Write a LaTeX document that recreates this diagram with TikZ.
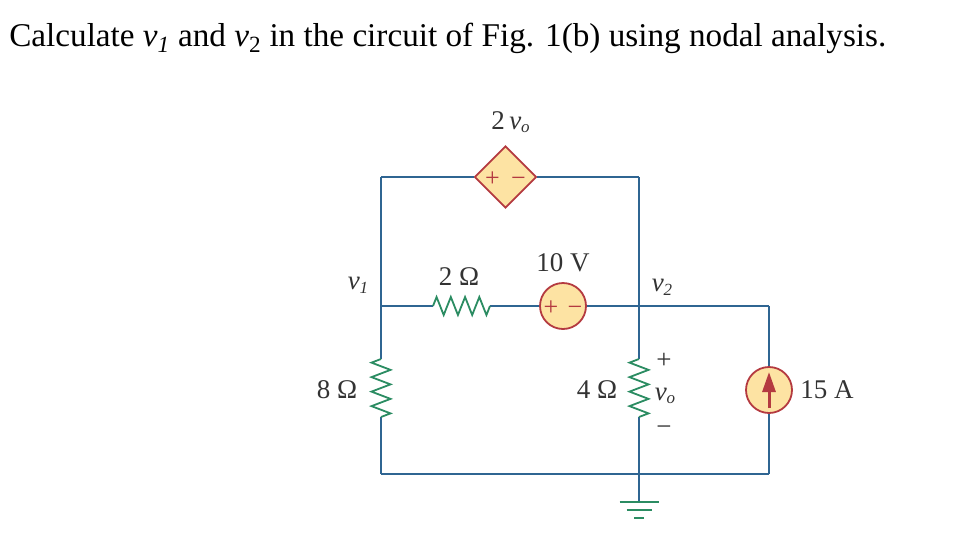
\documentclass[tikz,border=0pt]{standalone}
\usepackage{fontspec}
\setmainfont{Liberation Serif}
\usepackage{tikz}
\usetikzlibrary{arrows.meta,shapes.geometric,decorations.pathmorphing}
\definecolor{wireBlue}{HTML}{2F6592}
\definecolor{srcRed}{HTML}{B43A40}
\definecolor{srcFill}{HTML}{FDE3A3}
\definecolor{resGreen}{HTML}{2B8C62}
\definecolor{inkGray}{HTML}{333333}
\newcommand{\vSub}[1]{\textit{v}\raisebox{-.3ex}{\fontsize{17}{17}\selectfont\textit{#1}}}
\newcommand{\srcSigns}[1]{\makebox[0pt]{\raisebox{-9pt}[0pt][0pt]{+\hspace{#1}−}}}

\begin{document}
\begin{tikzpicture}[x=1pt,y=-1pt,semithick]
        \tikzset{
           junction/.style={
                        coordinate
                       },
           wire/.style={
                        draw=wireBlue,
                        line width=1.8pt
                       },
           resistor/.style={
                        draw=resGreen,
                        line width=1.8pt,
                        decorate,
                        decoration={zigzag,segment length=14.25pt,amplitude=9pt}
                       },
           resistorV/.style={
                        resistor,
                        decoration={zigzag,segment length=14.5pt,amplitude=9.5pt,mirror}
                       },
           indepSource/.style={
                        circle,
                        draw=srcRed,
                        fill=srcFill,
                        line width=1.8pt,
                        minimum size=46pt,
                        inner sep=0pt,
                        text=srcRed,
                        font=\fontsize{26}{26}\selectfont
                       },
           depSource/.style={
                        diamond,
                        aspect=1,
                        draw=srcRed,
                        fill=srcFill,
                        line width=1.8pt,
                        minimum size=62pt,
                        inner sep=0pt,
                        text=srcRed,
                        font=\fontsize{26}{26}\selectfont
                       },
           valueLabel/.style={
                        inner sep=0pt,
                        text=inkGray,
                        font=\fontsize{27}{27}\selectfont
                       },
           groundBar/.style={
                        draw=resGreen,
                        line width=1.8pt
                       },
                 };
    %--------------------
        \node[junction]    (v1Node)   at (381,306)                              {};
        \node[junction]    (topLeft)  [above of=v1Node,node distance=129pt]     {};
        \node[junction]    (r8Top)    [below of=v1Node,node distance=53pt]      {};
        \node[junction]    (r8Bot)    [below of=r8Top,node distance=58pt]       {};
        \node[junction]    (botLeft)  [below of=r8Bot,node distance=57pt]       {};

        \node[junction]    (v2Node)   at (639,306)                              {};
        \node[junction]    (topRight) [above of=v2Node,node distance=129pt]     {};
        \node[junction]    (r4Top)    [below of=v2Node,node distance=53pt]      {};
        \node[junction]    (r4Bot)    [below of=r4Top,node distance=58pt]       {};
        \node[junction]    (botMid)   [below of=r4Bot,node distance=57pt]       {};
        \node[junction]    (gnd)      [below of=botMid,node distance=28pt]      {};

        \node[junction]    (rightTop) [right of=v2Node,node distance=130pt]     {};
        \node[junction]    (botRight) [right of=botMid,node distance=130pt]     {};

        \node[junction]    (r2Left)   [right of=v1Node,node distance=52pt]      {};
        \node[junction]    (r2Right)  [right of=r2Left,node distance=57pt]      {};

        \node[depSource]   (srcDep)   at (505.5,177)                            {\srcSigns{11.5pt}};
        \node[indepSource] (src10)    at (563,306)                              {\srcSigns{9.5pt}};
        \node[indepSource] (src15)    at (769,390)                              {};
    %--------------------
        \node[valueLabel]  (labelDep)  [above of=srcDep,node distance=55pt,xshift=5pt] {2\,\vSub{o}};
        \node[valueLabel]  (label2)    at (459,277)                             {2 Ω};
        \node[valueLabel]  (label10)   [above of=src10,node distance=43pt]      {10 V};
        \node[valueLabel]  (labelV1)   at (358,285)                             {\vSub{1}};
        \node[valueLabel]  (labelV2)   at (662,287)                             {\vSub{2}};
        \node[valueLabel]  (label8)    at (337,390)                             {8 Ω};
        \node[valueLabel]  (label4)    at (597,390)                             {4 Ω};
        \node[valueLabel]  (labelPlus) at (664,361)                             {+};
        \node[valueLabel]  (labelVo)   at (665,396)                             {\vSub{o}};
        \node[valueLabel]  (labelMinus) at (664,431)                            {−};
        \node[valueLabel]  (label15)   [right of=src15,node distance=58pt]      {15 A};

        \node[anchor=west,inner sep=0pt,font=\fontsize{33.2}{33.2}\selectfont] (title) at (9,38)
              {Calculate \textit{v\textsubscript{1}} and \textit{v}\textsubscript{2} in the circuit of Fig. 1(b) using nodal analysis.};
    %--------------------
        \path (v1Node)   edge[wire] (topLeft)
              (topLeft)  edge[wire] (srcDep)
              (srcDep)   edge[wire] (topRight)
              (topRight) edge[wire] (v2Node)

              (v1Node)   edge[wire] (r8Top)
              (r8Bot)    edge[wire] (botLeft)
              (botLeft)  edge[wire] (botMid)
              (botMid)   edge[wire] (botRight)
              (botRight) edge[wire] (src15)
              (src15)    edge[wire] (rightTop)

              (v1Node)   edge[wire] (r2Left)
              (r2Right)  edge[wire] (src10)
              (src10)    edge[wire] (v2Node)
              (v2Node)   edge[wire] (rightTop)

              (v2Node)   edge[wire] (r4Top)
              (r4Bot)    edge[wire] (botMid)
              (botMid)   edge[wire] (gnd)

              (r2Left)   edge[resistor]  (r2Right)
              (r8Top)    edge[resistorV] (r8Bot)
              (r4Top)    edge[resistorV] (r4Bot);

        \draw[groundBar] ([xshift=-19.5pt]gnd) -- ([xshift=19.5pt]gnd);
        \draw[groundBar] ([xshift=-12.5pt,yshift=-8pt]gnd) -- ([xshift=12.5pt,yshift=-8pt]gnd);
        \draw[groundBar] ([xshift=-5pt,yshift=-16pt]gnd) -- ([xshift=5pt,yshift=-16pt]gnd);

        \draw[srcRed,line width=3pt,-{Triangle[length=20pt,width=13pt]}]
              ([yshift=-18pt]src15.center) -- ([yshift=18pt]src15.center);

        \useasboundingbox (0,0) rectangle (978,555);
    \end{tikzpicture}
\end{document}
